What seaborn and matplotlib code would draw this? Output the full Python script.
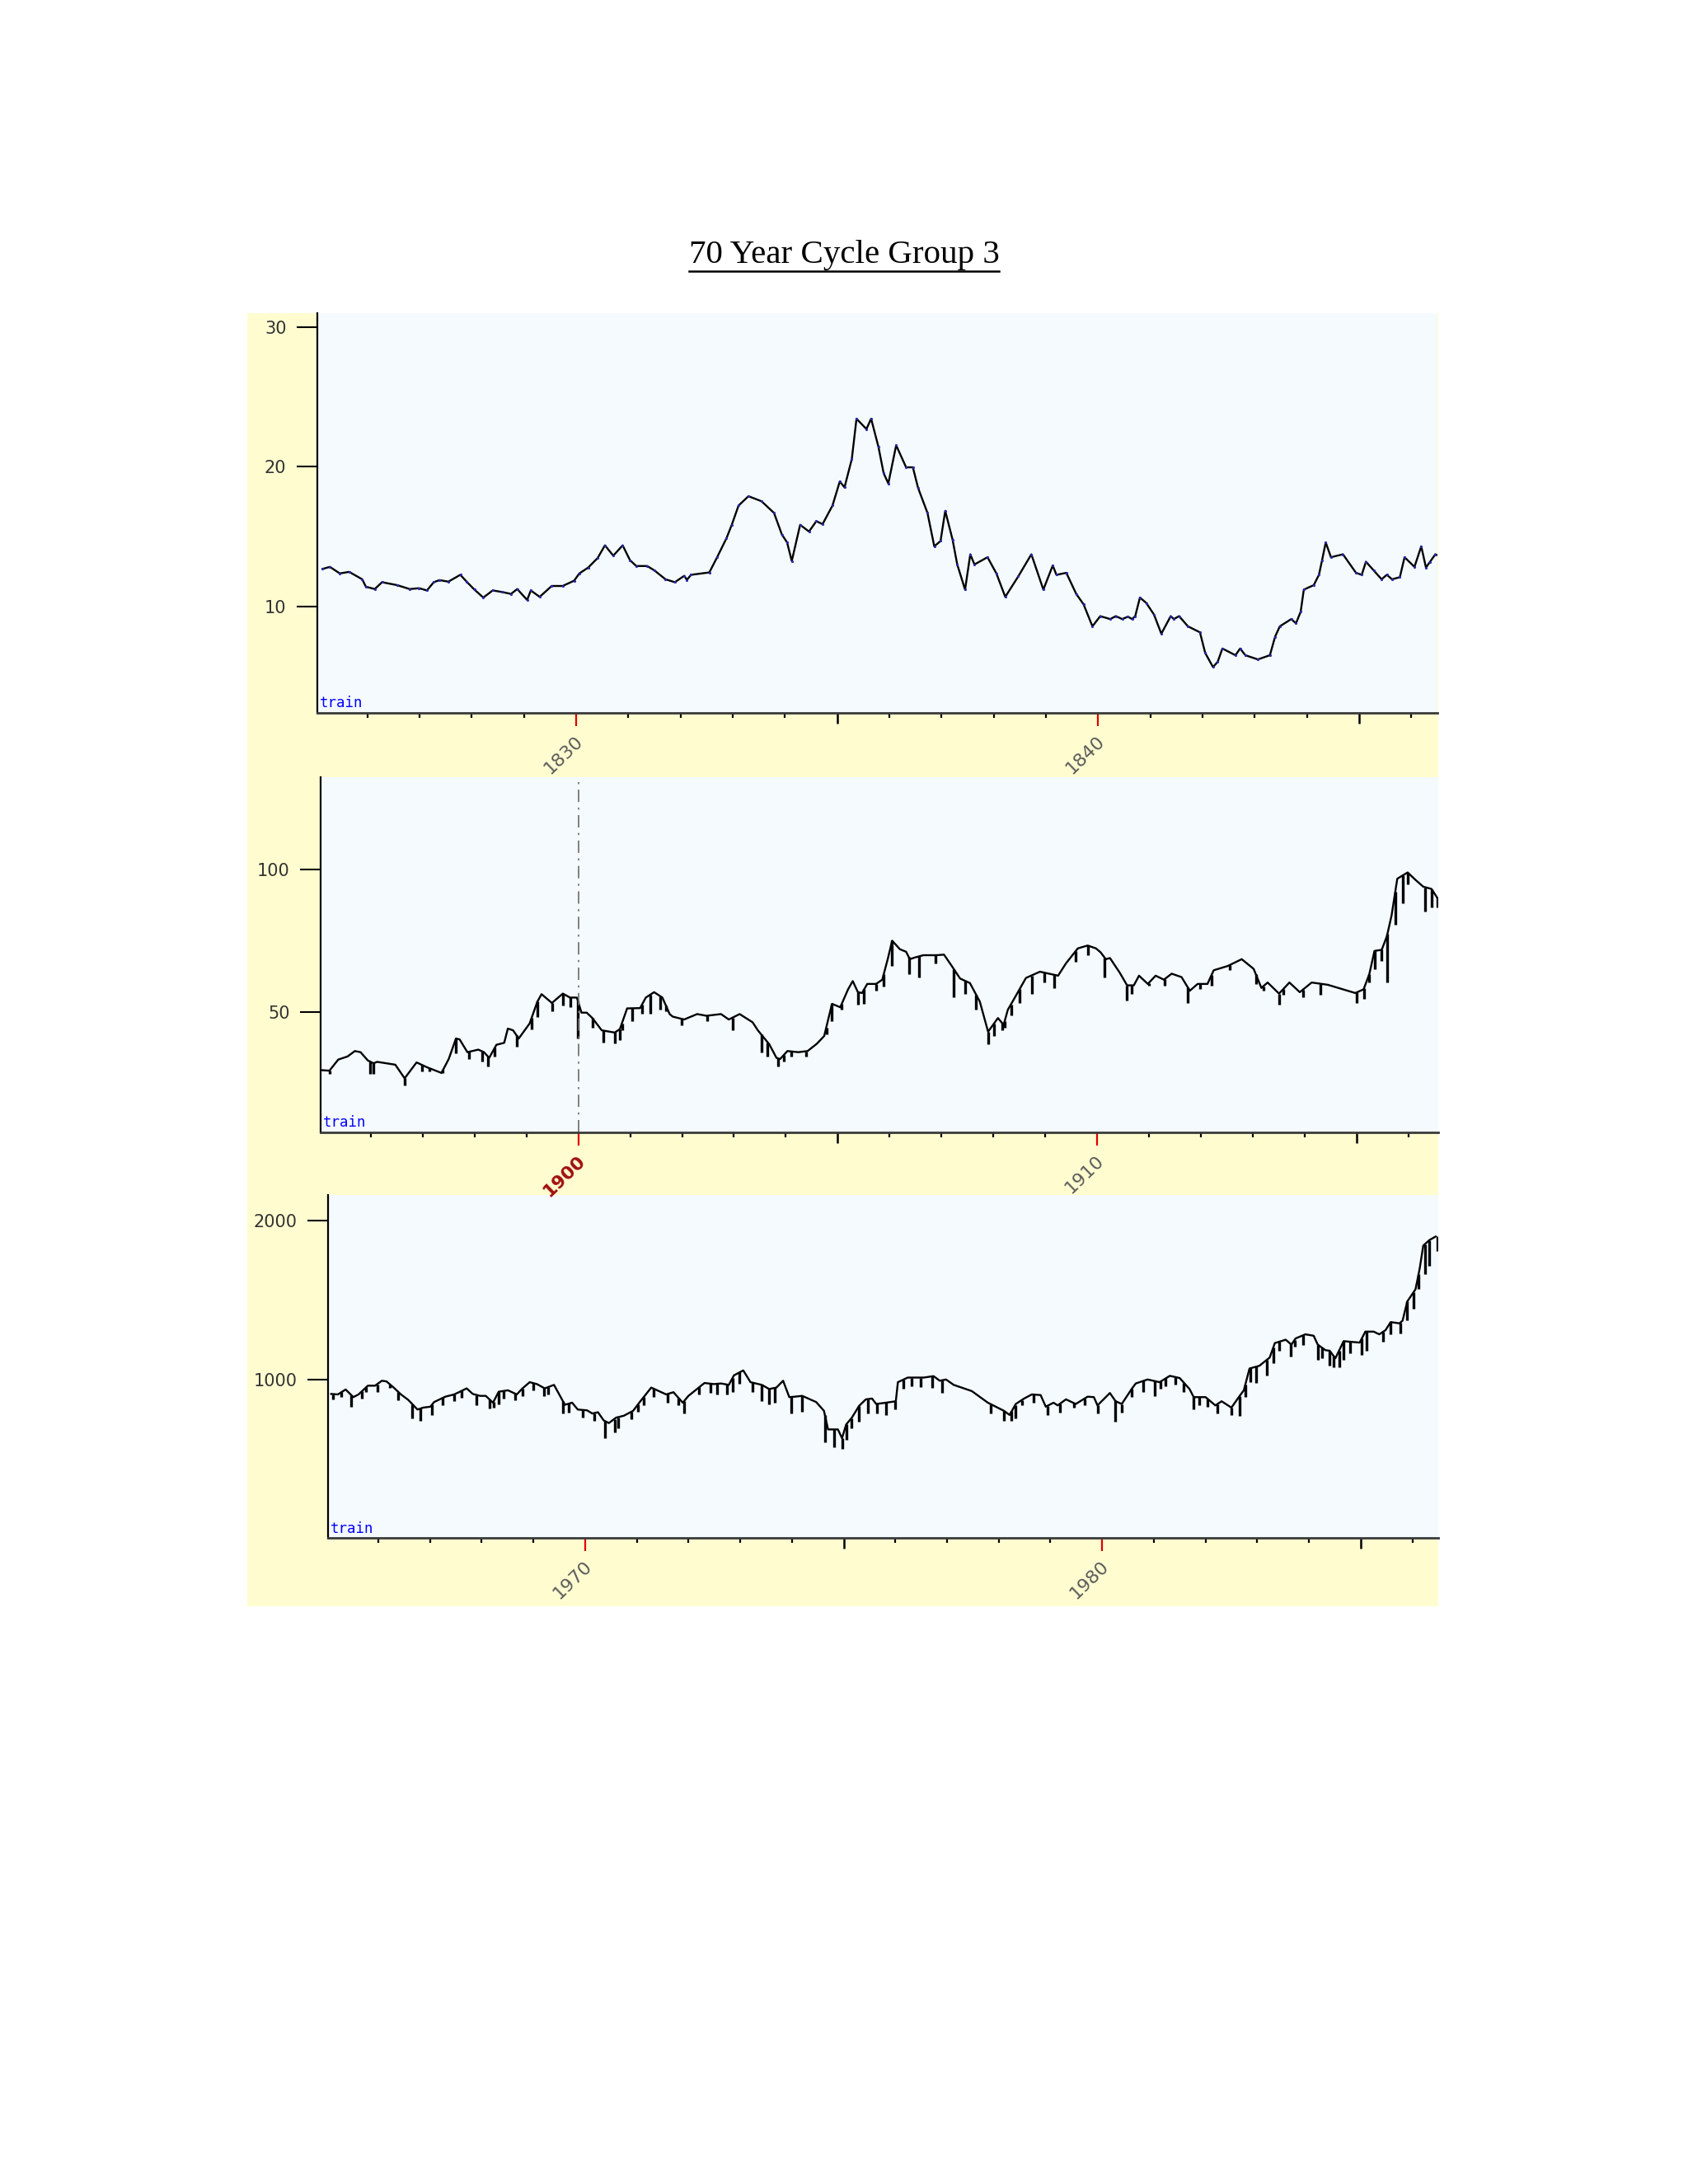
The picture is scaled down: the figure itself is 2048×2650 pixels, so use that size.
import numpy as np
import seaborn as sns
import matplotlib.pyplot as plt
from matplotlib.patches import Rectangle
from matplotlib.lines import Line2D
from matplotlib.transforms import ScaledTranslation

# ---- panel 1 : 1825-1846 ----
p1_year = [1825.14, 1825.28, 1825.47, 1825.65, 1825.9, 1825.97, 1826.14, 1826.28, 1826.57, 1826.81,
           1826.99, 1827.14, 1827.27, 1827.38, 1827.55, 1827.78, 1827.9, 1828.05, 1828.22, 1828.4,
           1828.58, 1828.75, 1828.87, 1829.06, 1829.13, 1829.3, 1829.53, 1829.74, 1829.96, 1830.06,
           1830.23, 1830.41, 1830.55, 1830.71, 1830.89, 1831.03, 1831.15, 1831.36, 1831.5, 1831.71,
           1831.89, 1832.07, 1832.12, 1832.2, 1832.55, 1832.7, 1832.88, 1832.98, 1833.11, 1833.3,
           1833.55, 1833.79, 1833.94, 1834.04, 1834.13, 1834.29, 1834.46, 1834.6, 1834.72, 1834.91,
           1835.05, 1835.14, 1835.28, 1835.37, 1835.56, 1835.65, 1835.79, 1835.89, 1835.98, 1836.13,
           1836.32, 1836.45, 1836.55, 1836.73, 1836.86, 1836.98, 1837.07, 1837.21, 1837.3, 1837.45,
           1837.55, 1837.63, 1837.88, 1838.05, 1838.22, 1838.47, 1838.72, 1838.95, 1839.13, 1839.2,
           1839.39, 1839.58, 1839.72, 1839.89, 1840.04, 1840.23, 1840.34, 1840.46, 1840.57, 1840.65,
           1840.71, 1840.8, 1840.92, 1841.07, 1841.21, 1841.39, 1841.45, 1841.55, 1841.72, 1841.95,
           1842.05, 1842.2, 1842.29, 1842.38, 1842.63, 1842.72, 1842.82, 1843.06, 1843.29, 1843.39,
           1843.48, 1843.7, 1843.79, 1843.88, 1843.94, 1844.13, 1844.23, 1844.29, 1844.36, 1844.46,
           1844.69, 1844.94, 1845.05, 1845.13, 1845.28, 1845.43, 1845.53, 1845.63, 1845.78, 1845.87,
           1846.06, 1846.19, 1846.28, 1846.36, 1846.46, 1846.53]
p1_value = [12.68, 12.83, 12.36, 12.47, 11.94, 11.41, 11.24, 11.73, 11.52, 11.24,
            11.3, 11.14, 11.73, 11.88, 11.77, 12.26, 11.77, 11.2, 10.63, 11.14,
            11.03, 10.89, 11.24, 10.46, 11.14, 10.68, 11.46, 11.46, 11.84, 12.36,
            12.78, 13.46, 14.37, 13.63, 14.37, 13.31, 12.89, 12.89, 12.57, 11.94,
            11.73, 12.19, 11.9, 12.26, 12.43, 13.52, 14.89, 15.84, 17.22, 17.89,
            17.53, 16.69, 15.15, 14.58, 13.25, 15.84, 15.36, 16.1, 15.89, 17.22,
            18.95, 18.52, 20.55, 23.44, 22.7, 23.44, 21.43, 19.54, 18.8, 21.54,
            19.96, 19.96, 18.48, 16.69, 14.3, 14.68, 16.84, 14.79, 13.0, 11.2,
            13.73, 13.0, 13.52, 12.36, 10.68, 12.15, 13.73, 11.2, 12.93, 12.26,
            12.4, 10.89, 10.15, 8.57, 9.3, 9.09, 9.3, 9.09, 9.26, 9.09,
            9.3, 10.63, 10.25, 9.41, 8.04, 9.3, 9.09, 9.3, 8.57, 8.14,
            6.67, 5.65, 6.03, 6.98, 6.5, 6.98, 6.5, 6.2, 6.5, 7.83,
            8.57, 9.09, 8.78, 9.62, 11.2, 11.52, 12.26, 13.31, 14.58, 13.52,
            13.73, 12.4, 12.26, 13.2, 12.57, 11.94, 12.26, 11.94, 12.09, 13.52,
            12.83, 14.3, 12.78, 13.2, 13.73, 13.62]

# ---- panel 2 : 1895-1916 ----
p2_year = [1895.03, 1895.2, 1895.37, 1895.55, 1895.69, 1895.8, 1895.94, 1896.05, 1896.12, 1896.3,
           1896.47, 1896.65, 1896.88, 1897.08, 1897.36, 1897.5, 1897.64, 1897.71, 1897.86, 1898.07,
           1898.18, 1898.28, 1898.42, 1898.57, 1898.64, 1898.74, 1898.85, 1899.06, 1899.21, 1899.29,
           1899.49, 1899.7, 1899.84, 1899.97, 1900.06, 1900.16, 1900.27, 1900.45, 1900.7, 1900.8,
           1900.94, 1901.19, 1901.3, 1901.46, 1901.62, 1901.76, 1901.82, 1902.04, 1902.29, 1902.47,
           1902.75, 1902.9, 1903.11, 1903.36, 1903.46, 1903.68, 1903.82, 1903.89, 1904.03, 1904.24,
           1904.42, 1904.6, 1904.74, 1904.89, 1905.05, 1905.2, 1905.29, 1905.39, 1905.47, 1905.57,
           1905.74, 1905.86, 1905.97, 1906.05, 1906.2, 1906.32, 1906.39, 1906.49, 1906.65, 1906.9,
           1907.05, 1907.2, 1907.36, 1907.55, 1907.74, 1907.9, 1908.09, 1908.2, 1908.28, 1908.4,
           1908.63, 1908.9, 1909.25, 1909.4, 1909.63, 1909.82, 1909.98, 1910.07, 1910.17, 1910.25,
           1910.44, 1910.58, 1910.71, 1910.81, 1910.98, 1911.13, 1911.29, 1911.44, 1911.63, 1911.79,
           1911.94, 1912.13, 1912.25, 1912.52, 1912.79, 1913.02, 1913.17, 1913.29, 1913.51, 1913.71,
           1913.91, 1914.14, 1914.45, 1914.98, 1915.14, 1915.25, 1915.35, 1915.49, 1915.59, 1915.68,
           1915.79, 1915.99, 1916.14, 1916.29, 1916.45, 1916.56]
p2_value = [29.6, 29.4, 33.3, 34.4, 36.3, 35.9, 33.0, 32.0, 32.5, 32.0,
            31.5, 26.7, 32.3, 30.6, 28.6, 33.5, 40.7, 40.4, 35.9, 36.8,
            35.9, 33.9, 38.5, 39.2, 44.2, 43.6, 40.7, 46.0, 53.7, 56.3,
            53.2, 56.5, 55.1, 55.1, 49.8, 49.8, 47.9, 43.6, 42.8, 44.0,
            51.3, 51.4, 55.1, 57.0, 55.1, 49.3, 48.4, 47.4, 49.3, 48.7,
            49.3, 47.4, 49.3, 46.4, 43.6, 38.7, 33.9, 33.5, 36.3, 35.9,
            36.3, 38.9, 41.6, 52.9, 51.7, 58.0, 60.9, 57.0, 56.7, 59.9,
            59.9, 61.4, 69.0, 75.1, 72.1, 71.2, 68.6, 69.2, 70.0, 70.0,
            70.2, 66.2, 61.8, 60.2, 53.7, 43.1, 47.9, 45.5, 50.8, 54.6,
            62.0, 64.2, 62.8, 67.1, 72.4, 73.4, 72.4, 71.0, 68.6, 69.0,
            63.8, 59.4, 59.4, 62.8, 59.9, 62.8, 61.4, 63.5, 62.3, 57.5,
            59.9, 59.9, 64.7, 66.2, 68.6, 65.2, 58.5, 60.4, 56.5, 60.4,
            57.0, 60.4, 59.6, 56.7, 58.0, 63.3, 71.5, 71.9, 76.7, 84.0,
            96.9, 99.1, 96.5, 94.1, 93.3, 90.2]
p2_bar_year = [1895.2, 1895.98, 1896.05, 1896.65, 1896.98, 1897.13, 1897.39, 1897.64, 1897.89, 1898.14,
               1898.25, 1898.39, 1898.81, 1899.1, 1899.21, 1899.49, 1899.7, 1899.84, 1899.99, 1900.27,
               1900.48, 1900.71, 1900.8, 1900.84, 1901.04, 1901.23, 1901.39, 1901.58, 1901.69, 1901.99,
               1902.48, 1902.97, 1903.53, 1903.65, 1903.85, 1903.96, 1904.1, 1904.39, 1904.78, 1904.89,
               1905.08, 1905.39, 1905.51, 1905.74, 1905.89, 1906.05, 1906.37, 1906.57, 1906.88, 1907.24,
               1907.45, 1907.67, 1907.9, 1908.01, 1908.17, 1908.22, 1908.34, 1908.51, 1908.74, 1908.98,
               1909.17, 1909.59, 1909.82, 1910.15, 1910.58, 1910.67, 1911.0, 1911.3, 1911.75, 1911.98,
               1912.21, 1912.56, 1913.06, 1913.21, 1913.51, 1913.6, 1913.97, 1914.31, 1915.0, 1915.15,
               1915.25, 1915.35, 1915.49, 1915.6, 1915.75, 1915.89, 1915.99, 1916.33, 1916.45, 1916.56]
p2_bar_low = [28.2, 28.2, 28.2, 24.3, 29.1, 29.1, 28.6, 35.4, 33.5, 32.5,
              31.0, 34.4, 37.8, 44.0, 48.4, 50.3, 52.2, 51.7, 40.7, 44.5,
              39.4, 39.0, 40.2, 43.6, 46.9, 49.3, 49.3, 50.8, 50.3, 45.5,
              46.9, 43.6, 35.9, 34.4, 31.0, 32.5, 34.4, 34.4, 42.1, 46.9,
              50.8, 52.7, 52.9, 57.5, 58.9, 66.2, 63.3, 62.3, 67.1, 55.1,
              56.5, 50.8, 38.7, 41.6, 43.6, 44.5, 48.8, 53.2, 56.5, 60.4,
              58.5, 67.6, 70.0, 62.3, 54.1, 56.5, 59.4, 59.4, 53.2, 58.0,
              59.4, 64.7, 59.9, 57.5, 52.7, 56.1, 55.1, 56.1, 53.2, 54.6,
              60.4, 65.2, 68.1, 60.4, 80.6, 88.3, 95.0, 85.4, 86.8, 86.8]

# ---- panel 3 : 1965-1986 ----
p3_year = [1965.09, 1965.22, 1965.37, 1965.52, 1965.62, 1965.8, 1965.94, 1966.07, 1966.16, 1966.3,
           1966.44, 1966.58, 1966.76, 1966.87, 1967.01, 1967.08, 1967.3, 1967.47, 1967.58, 1967.71,
           1967.83, 1967.97, 1968.08, 1968.22, 1968.33, 1968.51, 1968.68, 1968.79, 1968.93, 1969.07,
           1969.22, 1969.4, 1969.5, 1969.61, 1969.75, 1969.86, 1970.04, 1970.14, 1970.25, 1970.36,
           1970.46, 1970.6, 1970.75, 1970.93, 1971.07, 1971.28, 1971.57, 1971.71, 1971.89, 1972.0,
           1972.31, 1972.49, 1972.63, 1972.78, 1972.88, 1973.06, 1973.2, 1973.42, 1973.56, 1973.7,
           1973.83, 1973.95, 1974.06, 1974.2, 1974.47, 1974.62, 1974.7, 1974.89, 1974.97, 1975.05,
           1975.16, 1975.3, 1975.43, 1975.55, 1975.63, 1975.82, 1976.01, 1976.05, 1976.24, 1976.55,
           1976.74, 1976.86, 1976.98, 1977.13, 1977.48, 1977.79, 1978.1, 1978.21, 1978.33, 1978.49,
           1978.64, 1978.81, 1978.91, 1979.06, 1979.14, 1979.3, 1979.49, 1979.72, 1979.84, 1979.91,
           1980.15, 1980.26, 1980.38, 1980.57, 1980.65, 1980.88, 1981.11, 1981.31, 1981.5, 1981.69,
           1981.77, 1982.0, 1982.19, 1982.31, 1982.5, 1982.66, 1982.74, 1982.85, 1983.04, 1983.24,
           1983.34, 1983.55, 1983.66, 1983.74, 1983.93, 1984.09, 1984.17, 1984.32, 1984.4, 1984.51,
           1984.67, 1984.98, 1985.09, 1985.25, 1985.36, 1985.48, 1985.58, 1985.75, 1985.81, 1985.9,
           1986.06, 1986.14, 1986.21, 1986.33, 1986.45]
p3_value = [912, 909, 940, 892, 909, 964, 964, 995, 991, 952,
            909, 875, 814, 826, 832, 861, 895, 909, 926, 947,
            912, 900, 900, 857, 926, 935, 909, 947, 986, 974,
            947, 969, 909, 844, 857, 814, 809, 789, 797, 746,
            729, 763, 775, 806, 866, 952, 909, 923, 857, 900,
            981, 974, 978, 969, 1029, 1060, 986, 969, 943, 952,
            995, 892, 895, 900, 861, 806, 689, 689, 634, 720,
            763, 837, 878, 883, 849, 857, 866, 986, 1015, 1015,
            1024, 995, 1003, 969, 930, 857, 806, 780, 849, 883,
            909, 905, 832, 857, 840, 878, 849, 895, 892, 840,
            918, 866, 849, 943, 978, 1003, 986, 1026, 1012, 943,
            892, 892, 840, 866, 826, 900, 935, 1072, 1089, 1141,
            1232, 1253, 1222, 1261, 1287, 1278, 1222, 1187, 1184, 1136,
            1244, 1235, 1304, 1304, 1287, 1313, 1364, 1356, 1373, 1493,
            1570, 1699, 1845, 1880, 1902]
p3_bar_year = [1965.12, 1965.29, 1965.48, 1965.69, 1965.77, 1965.98, 1966.23, 1966.39, 1966.66, 1966.81,
               1967.04, 1967.25, 1967.47, 1967.62, 1967.9, 1968.15, 1968.23, 1968.33, 1968.43, 1968.65,
               1968.79, 1969.0, 1969.2, 1969.29, 1969.57, 1969.68, 1969.96, 1970.18, 1970.39, 1970.57,
               1970.64, 1970.89, 1971.03, 1971.14, 1971.32, 1971.6, 1971.81, 1971.91, 1972.21, 1972.42,
               1972.56, 1972.74, 1972.85, 1972.99, 1973.24, 1973.42, 1973.56, 1973.67, 1973.99, 1974.19,
               1974.64, 1974.81, 1974.97, 1975.05, 1975.15, 1975.3, 1975.47, 1975.64, 1975.82, 1976.0,
               1976.15, 1976.32, 1976.49, 1976.71, 1976.9, 1977.85, 1978.1, 1978.25, 1978.32, 1978.45,
               1978.68, 1978.95, 1979.18, 1979.45, 1979.66, 1979.91, 1980.25, 1980.38, 1980.57, 1980.8,
               1981.02, 1981.13, 1981.23, 1981.42, 1981.58, 1981.77, 1981.87, 1982.04, 1982.23, 1982.5,
               1982.66, 1982.77, 1982.87, 1982.97, 1983.18, 1983.31, 1983.43, 1983.65, 1983.72, 1983.89,
               1984.17, 1984.25, 1984.4, 1984.47, 1984.58, 1984.67, 1984.79, 1985.02, 1985.12, 1985.43,
               1985.58, 1985.77, 1985.9, 1986.02, 1986.12, 1986.24, 1986.33, 1986.48]
p3_bar_low = [878, 892, 832, 883, 923, 926, 952, 875, 758, 741,
              780, 840, 866, 888, 840, 823, 826, 849, 883, 871,
              900, 935, 900, 909, 792, 797, 763, 741, 634, 668,
              694, 754, 802, 840, 892, 857, 840, 792, 909, 918,
              909, 909, 923, 978, 926, 866, 849, 857, 789, 802,
              608, 579, 569, 625, 694, 737, 789, 789, 780, 814,
              943, 960, 957, 952, 918, 792, 741, 741, 758, 840,
              857, 780, 797, 826, 840, 789, 737, 797, 892, 926,
              900, 943, 960, 969, 923, 814, 840, 832, 792, 780,
              775, 892, 986, 981, 1029, 1107, 1184, 1149, 1210, 1218,
              1124, 1136, 1089, 1081, 1081, 1124, 1167, 1158, 1184, 1239,
              1287, 1290, 1373, 1450, 1570, 1665, 1716, 1811]

title = "70 Year Cycle Group 3"

YELLOW = '#FFFDD0'
PLOT_BG = '#F4FAFE'

fig = plt.figure(figsize=(20.48, 26.5), dpi=100)
fig.patch.set_facecolor('white')

# yellow backdrop behind the three panels
fig.add_artist(Rectangle((300 / 2048, 1 - 1949 / 2650), 1445 / 2048, (1949 - 380) / 2650,
                         transform=fig.transFigure, facecolor=YELLOW, edgecolor='none', zorder=0))

panels = [
    dict(rect=(385, 380, 1744, 865), x=p1_year, y=p1_value, bx=None, bl=None,
         xlim=(1825.04, 1846.5), ylim=(2.37, 31.0), yticks=[10, 20, 30],
         decades=[1830, 1840], start=1826, end=1846, marker=True),
    dict(rect=(389, 943, 1745, 1374), x=p2_year, y=p2_value, bx=p2_bar_year, bl=p2_bar_low,
         xlim=(1895.03, 1916.58), ylim=(7.7, 132.6), yticks=[50, 100],
         decades=[1900, 1910], start=1896, end=1916, marker=False),
    dict(rect=(398, 1450, 1745, 1866), x=p3_year, y=p3_value, bx=p3_bar_year, bl=p3_bar_low,
         xlim=(1965.03, 1986.5), ylim=(7, 2163), yticks=[1000, 2000],
         decades=[1970, 1980], start=1966, end=1986, marker=False),
]

for i, p in enumerate(panels):
    x0, y0, x1, y1 = p['rect']
    ax = fig.add_axes([x0 / 2048, 1 - y1 / 2650, (x1 - x0) / 2048, (y1 - y0) / 2650])
    ax.set_facecolor(PLOT_BG)
    ax.set_zorder(5 - i)  # upper panels on top so their year labels stay visible

    sns.lineplot(x=p['x'], y=p['y'], ax=ax, color='black', linewidth=1.7,
                 estimator=None, sort=False, legend=False,
                 marker='.' if p['marker'] else None, markersize=3,
                 markeredgecolor='#2828A8', markerfacecolor='#2828A8')
    if p['bx'] is not None:
        tops = np.interp(p['bx'], p['x'], p['y'])
        ax.vlines(p['bx'], p['bl'], tops, color='black', linewidth=2.4)

    ax.set_xlim(*p['xlim'])
    ax.set_ylim(*p['ylim'])
    ax.set_xlabel('')
    ax.set_ylabel('')

    for s in ['top', 'right']:
        ax.spines[s].set_visible(False)
    ax.spines['left'].set_color('black')
    ax.spines['left'].set_linewidth(1.6)
    ax.spines['bottom'].set_color('#3A3A3A')
    ax.spines['bottom'].set_linewidth(2)

    ax.set_yticks(p['yticks'])
    ax.set_yticklabels([str(v) for v in p['yticks']])
    ax.tick_params(axis='y', length=18, width=1.5, color='black', pad=9,
                   labelsize=15, labelcolor='#333333')

    years = list(range(p['start'], p['end'] + 1))
    ax.set_xticks(p['decades'])
    ax.set_xticks([yr for yr in years if yr % 5 != 0], minor=True)
    ax.tick_params(axis='x', which='major', length=11.5, width=1.6, color='#E00000',
                   pad=6, labelsize=16, labelcolor='#5A5A5A')
    ax.tick_params(axis='x', which='minor', length=4.5, width=1.6, color='black')
    ax.set_xticklabels([str(d) for d in p['decades']], rotation=44, ha='right', va='top')

    sec = ax.secondary_xaxis('bottom')
    sec.set_xticks([yr for yr in years if yr % 5 == 0 and yr % 10 != 0])
    sec.tick_params(length=9, width=1.8, color='black', labelbottom=False)
    sec.spines['bottom'].set_visible(False)

    if i == 1:
        ax.axvline(1900, color='#6A6A6A', linewidth=1.2, linestyle=(0, (9, 4, 1.5, 4)))
        lab = ax.get_xticklabels()[0]
        lab.set_color('#A01010')
        lab.set_fontweight('bold')

    shift = ScaledTranslation(12 / 100, 0, fig.dpi_scale_trans)
    for lab in ax.get_xticklabels():
        lab.set_transform(lab.get_transform() + shift)

    ax.text(0.002, 0.006, 'train', transform=ax.transAxes, ha='left', va='bottom',
            color='#0000FF', fontsize=12.5, family='DejaVu Sans Mono')

t = fig.text(0.5, 1 - 310 / 2650, title, ha='center', va='center',
             fontsize=29.5, family='Liberation Serif', color='black')
fig.canvas.draw()
bb = t.get_window_extent().transformed(fig.transFigure.inverted())
uy = 1 - 329 / 2650
fig.add_artist(Line2D([bb.x0, bb.x1], [uy, uy], transform=fig.transFigure,
                      color='black', linewidth=1.8))

fig.savefig('out.png', dpi=100, facecolor='white')
